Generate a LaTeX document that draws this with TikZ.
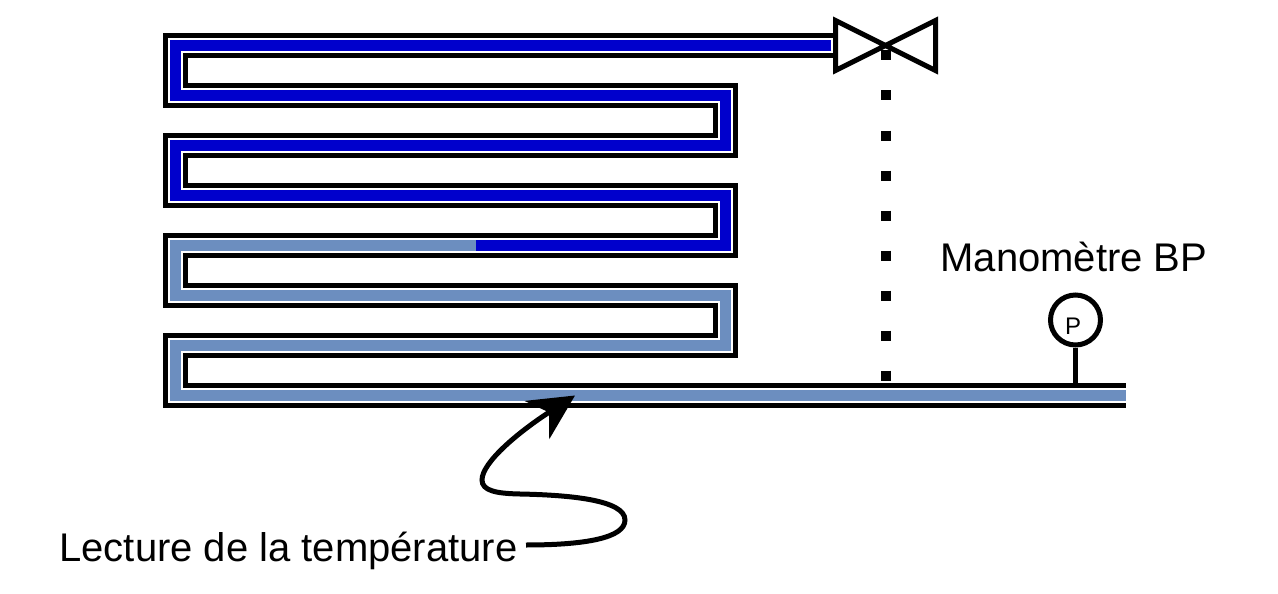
\documentclass[tikz,border=0pt]{standalone}
\usepackage{fontspec}
\setmainfont{Liberation Sans}
\usetikzlibrary{arrows.meta}
\definecolor{coldblue}{HTML}{0000CC}
\definecolor{warmblue}{HTML}{6C8EBF}
\tikzset{
  wall/.style={draw=black,line width=5pt,miter limit=10,line join=miter},
  coldflow/.style={draw=coldblue,line width=10.5pt,line join=miter},
  warmflow/.style={draw=warmblue,line width=10.5pt,line join=miter},
  capillary/.style={draw=black,line width=10pt,dash pattern=on 10pt off 30pt,dash phase=35pt},
  labeltext/.style={font=\fontsize{40pt}{40pt}\selectfont,inner sep=0pt,outer sep=0pt,anchor=base west},
  gauge/.style={circle,draw=black,fill=white,line width=5pt,minimum size=50pt,inner sep=0pt},
  pointer/.style={draw=black,line width=5pt,-{Stealth[length=45pt,width=45pt,inset=14pt]}}
}
\begin{document}
\begin{tikzpicture}[x=1pt,y=-1pt]
\useasboundingbox (0,0) rectangle (1278,594);
% named points
\coordinate (vc) at (885.5,45.5);
\coordinate (vtl) at (835.5,20.5);
\coordinate (vbl) at (835.5,70.5);
\coordinate (vtr) at (935.5,20.5);
\coordinate (vbr) at (935.5,70.5);
\coordinate (pipeabove) at (885.5,385.5);
\coordinate (stemfoot) at (1075.5,385.5);
\coordinate (arrowstart) at (526,545);
\coordinate (arrowtip) at (575,395.5);
% capillary
\draw[capillary] (vc) -- (pipeabove);
% refrigerant
\draw[warmflow] (476,245.5) -- (175.5,245.5) -- (175.5,295.5) -- (725.5,295.5) -- (725.5,345.5) -- (175.5,345.5) -- (175.5,395.5) -- (1125.5,395.5);
\draw[coldflow] (831,45.5) -- (175.5,45.5) -- (175.5,95.5) -- (725.5,95.5) -- (725.5,145.5) -- (175.5,145.5) -- (175.5,195.5) -- (725.5,195.5) -- (725.5,245.5) -- (476,245.5);
% tube walls
\draw[wall] (835.5,35.5) -- (165.5,35.5) -- (165.5,105.5) -- (715.5,105.5) -- (715.5,135.5) -- (165.5,135.5) -- (165.5,205.5) -- (715.5,205.5) -- (715.5,235.5) -- (165.5,235.5) -- (165.5,305.5) -- (715.5,305.5) -- (715.5,335.5) -- (165.5,335.5) -- (165.5,405.5) -- (1125.5,405.5);
\draw[wall] (835.5,55.5) -- (185.5,55.5) -- (185.5,85.5) -- (735.5,85.5) -- (735.5,155.5) -- (185.5,155.5) -- (185.5,185.5) -- (735.5,185.5) -- (735.5,255.5) -- (185.5,255.5) -- (185.5,285.5) -- (735.5,285.5) -- (735.5,355.5) -- (185.5,355.5) -- (185.5,385.5) -- (1125.5,385.5);
% valve
\draw[wall] (vc) -- (vtl) -- (vbl) -- cycle;
\draw[wall] (vc) -- (vtr) -- (vbr) -- cycle;
% gauge
\node[gauge] (pg) at (1075.5,320) {};
\node[font=\fontsize{24pt}{24pt}\selectfont,inner sep=0pt] (pl) at (1073,326) {P};
\draw[wall] (pg.south) -- (stemfoot);
% labels
\node[labeltext] (mano) at (940.5,271) {Manomètre BP};
\node[labeltext] (lect) at (59.5,561) {Lecture de la température};
% pointer
\draw[pointer] (arrowstart) .. controls (585,545) and (625,538) .. (625,520)
  .. controls (625,500) and (570,495) .. (520,494)
  .. controls (497,493.5) and (482,491) .. (482,480)
  .. controls (482,462) and (520,431) .. (arrowtip);
\end{tikzpicture}
\end{document}
